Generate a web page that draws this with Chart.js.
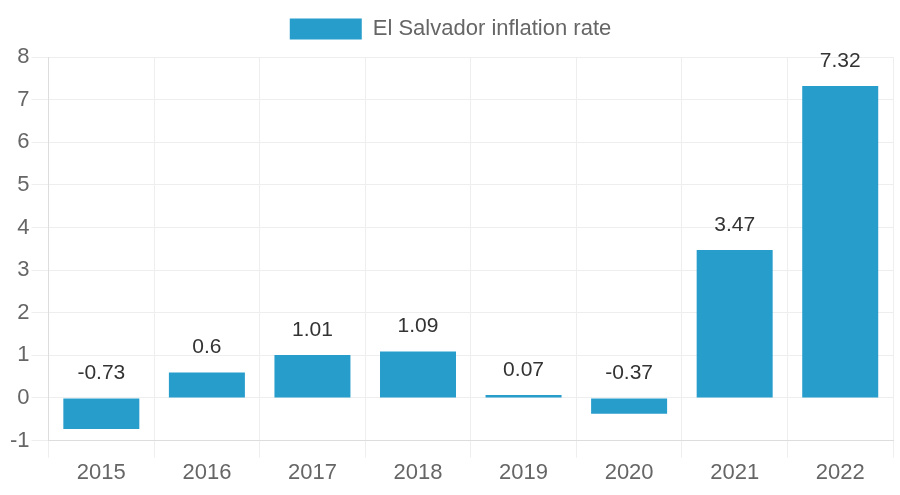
<!DOCTYPE html>
<html lang="en">
<head>
    <meta charset="UTF-8">
    <title>El Salvador inflation rate</title>
    <script src="https://cdn.jsdelivr.net/npm/chart.js"></script>
    <style>
        html, body { margin: 0; padding: 0; background: #fff; }
        #wrap { width: 900px; height: 495px; }
    </style>
</head>
<body>
    <div id="wrap"><canvas id="chart"></canvas></div>
    <script>
        // data
        const years = ['2015', '2016', '2017', '2018', '2019', '2020', '2021', '2022'];
        const inflation = [-0.73, 0.6, 1.01, 1.09, 0.07, -0.37, 3.47, 7.32];
        const seriesLabel = 'El Salvador inflation rate';

        const FONT = "'Liberation Sans', Arial, sans-serif";

        // value labels above each bar
        const valueLabels = {
            id: 'valueLabels',
            afterInit(chart) {
                // a bit more room under the legend
                const lg = chart.legend;
                if (lg) {
                    const fit = lg.fit;
                    lg.fit = function () { fit.call(this); this.height += 7; };
                }
            },
            afterDatasetsDraw(chart) {
                const ctx = chart.ctx;
                const meta = chart.getDatasetMeta(0);
                ctx.save();
                ctx.font = '21px ' + FONT;
                ctx.fillStyle = '#333';
                ctx.textAlign = 'center';
                ctx.textBaseline = 'middle';
                meta.data.forEach((bar, i) => {
                    const top = Math.min(bar.y, bar.base);
                    ctx.fillText(String(inflation[i]), bar.x, top - 25);
                });
                ctx.restore();
            }
        };

        new Chart(document.getElementById('chart'), {
            type: 'bar',
            data: {
                labels: years,
                datasets: [{
                    label: seriesLabel,
                    data: inflation,
                    backgroundColor: '#279dcc',
                    borderWidth: 0
                }]
            },
            options: {
                responsive: true,
                maintainAspectRatio: false,
                animation: false,
                layout: { padding: { top: 8, left: 8, right: 7, bottom: 7 } },
                plugins: {
                    legend: {
                        labels: {
                            font: { size: 22, family: FONT },
                            color: '#666',
                            boxWidth: 72,
                            boxHeight: 21,
                            padding: 10
                        }
                    },
                    tooltip: { enabled: false }
                },
                scales: {
                    x: {
                        grid: { color: '#eeeeee', tickLength: 17 },
                        border: { color: '#dddddd' },
                        ticks: { font: { size: 22, family: FONT }, color: '#666', padding: 2 }
                    },
                    y: {
                        min: -1,
                        max: 8,
                        grid: { color: '#eeeeee', tickLength: 17 },
                        border: { color: '#dddddd' },
                        ticks: { stepSize: 1, font: { size: 22, family: FONT }, color: '#666', padding: 2 }
                    }
                }
            },
            plugins: [valueLabels]
        });
    </script>
</body>
</html>
